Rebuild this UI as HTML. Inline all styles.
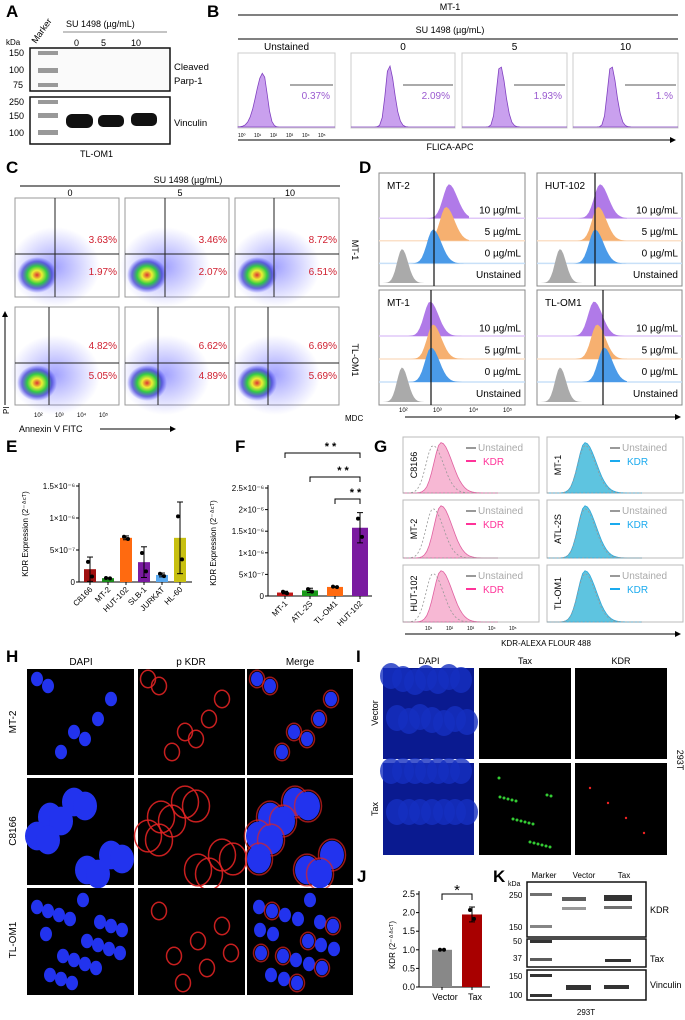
<!DOCTYPE html>
<html><head><meta charset="utf-8">
<style>
body{margin:0;background:#fff;}
svg{display:block;font-family:"Liberation Sans",Arial,sans-serif;}
</style></head>
<body>
<svg id="fig" width="685" height="1020" viewBox="0 0 685 1020" xmlns="http://www.w3.org/2000/svg">
<defs>
 <radialGradient id="dens" cx="50%" cy="50%" r="50%">
  <stop offset="0" stop-color="#d33"/><stop offset="0.25" stop-color="#ee3"/><stop offset="0.5" stop-color="#3c4"/><stop offset="0.75" stop-color="#33c" stop-opacity="0.7"/><stop offset="1" stop-color="#33f" stop-opacity="0"/>
 </radialGradient>
 <radialGradient id="dens2" cx="50%" cy="50%" r="50%">
  <stop offset="0" stop-color="#44f" stop-opacity="0.5"/><stop offset="1" stop-color="#44f" stop-opacity="0"/>
 </radialGradient>
 <marker id="arr" markerWidth="6" markerHeight="6" refX="5" refY="3" orient="auto"><path d="M0,0 L6,3 L0,6z" fill="#000"/></marker>
</defs>
<g id="panelLetters" font-weight="bold" font-size="17">
 <text x="6" y="17">A</text>
 <text x="207" y="17">B</text>
 <text x="6" y="173">C</text>
 <text x="359" y="173">D</text>
 <text x="6" y="452">E</text>
 <text x="235" y="452">F</text>
 <text x="374" y="452">G</text>
 <text x="6" y="662">H</text>
 <text x="356" y="662">I</text>
 <text x="357" y="882">J</text>
 <text x="493" y="882">K</text>
</g>

<!-- Panel A -->
<g id="panelA" font-size="9">
 <text x="6" y="45" font-size="8">kDa</text>
 <text x="36" y="44" font-size="9" transform="rotate(-55 36 44)">Marker</text>
 <text x="66" y="27">SU 1498 (µg/mL)</text>
 <line x1="63" y1="32" x2="167" y2="32" stroke="#888"/>
 <text x="74" y="46">0</text><text x="101" y="46">5</text><text x="131" y="46">10</text>
 <rect x="30" y="48" width="140" height="43" fill="#fafafa" stroke="#111" stroke-width="1.5"/>
 <rect x="30" y="97" width="140" height="47" fill="#fff" stroke="#111" stroke-width="1.5"/>
 <g fill="#999"><rect x="38" y="51" width="20" height="4"/><rect x="38" y="68" width="20" height="5"/><rect x="38" y="83" width="20" height="4"/>
 <rect x="38" y="100" width="20" height="4"/><rect x="38" y="113" width="20" height="5"/><rect x="38" y="130" width="20" height="5"/></g>
 <text x="9" y="56">150</text><text x="9" y="73">100</text><text x="13" y="88">75</text>
 <text x="9" y="105">250</text><text x="9" y="119">150</text><text x="9" y="136">100</text>
 <g fill="#111"><rect x="66" y="114" width="27" height="14" rx="6"/><rect x="98" y="115" width="26" height="12" rx="5"/><rect x="131" y="113" width="26" height="13" rx="5"/></g>
 <text x="174" y="70" font-size="9.5">Cleaved</text><text x="174" y="84" font-size="9.5">Parp-1</text>
 <text x="174" y="126" font-size="9.5">Vinculin</text>
 <text x="80" y="157">TL-OM1</text>
</g>

<!-- Panel B -->
<g id="panelB" font-size="9">
 <text x="450" y="10" text-anchor="middle">MT-1</text>
 <line x1="238" y1="15" x2="678" y2="15" stroke="#000"/>
 <text x="450" y="33" text-anchor="middle">SU 1498 (µg/mL)</text>
 <line x1="238" y1="39" x2="678" y2="39" stroke="#000"/>
 <g id="bBoxes"></g>
 <line x1="238" y1="140" x2="675" y2="140" stroke="#000" marker-end="url(#arr)"/>
 <text x="450" y="150" text-anchor="middle">FLICA-APC</text>
</g>

<!-- Panel C -->
<g id="panelC" font-size="9">
 <text x="188" y="183" text-anchor="middle">SU 1498 (µg/mL)</text>
 <line x1="20" y1="186" x2="340" y2="186" stroke="#000"/>
 <text x="70" y="196" text-anchor="middle">0</text><text x="180" y="196" text-anchor="middle">5</text><text x="290" y="196" text-anchor="middle">10</text>
 <g id="cBoxes"></g>
 <text x="352" y="250" transform="rotate(90 352 250)" text-anchor="middle">MT-1</text>
 <text x="352" y="360" transform="rotate(90 352 360)" text-anchor="middle">TL-OM1</text>
 <line x1="5" y1="405" x2="5" y2="312" stroke="#000" marker-end="url(#arr)"/>
 <text x="9" y="414" transform="rotate(-90 9 414)" font-size="8">PI</text>
 <text x="34" y="417" font-size="6">10²</text><text x="55" y="417" font-size="6">10³</text><text x="77" y="417" font-size="6">10⁴</text><text x="99" y="417" font-size="6">10⁵</text>
 <text x="19" y="432">Annexin V FITC</text>
 <line x1="100" y1="429" x2="175" y2="429" stroke="#000" marker-end="url(#arr)"/>
</g>

<!-- Panel D -->
<g id="panelD" font-size="9">
 <g id="dBoxes"></g>
 <text x="399" y="412" font-size="6">10²</text><text x="433" y="412" font-size="6">10³</text><text x="469" y="412" font-size="6">10⁴</text><text x="503" y="412" font-size="6">10⁵</text>
 <text x="345" y="421" font-size="8">MDC</text>
 <line x1="405" y1="417" x2="680" y2="417" stroke="#000" marker-end="url(#arr)"/>
</g>

<!-- Panel E -->
<g id="panelE" font-size="9"></g>
<!-- Panel F -->
<g id="panelF" font-size="9"></g>

<!-- Panel G -->
<g id="panelG" font-size="9">
 <g id="gBoxes"></g>
 <text x="425" y="630" font-size="5">10¹</text><text x="446" y="630" font-size="5">10²</text><text x="467" y="630" font-size="5">10³</text><text x="488" y="630" font-size="5">10⁴</text><text x="509" y="630" font-size="5">10⁵</text>
 <line x1="405" y1="634" x2="680" y2="634" stroke="#000" marker-end="url(#arr)"/>
 <text x="546" y="646" text-anchor="middle" font-size="8">KDR-ALEXA FLOUR 488</text>
</g>

<!-- Panel H -->
<g id="panelH" font-size="10">
 <text x="81" y="665" text-anchor="middle">DAPI</text>
 <text x="191" y="665" text-anchor="middle">p KDR</text>
 <text x="300" y="665" text-anchor="middle">Merge</text>
 <text x="16" y="722" transform="rotate(-90 16 722)" text-anchor="middle">MT-2</text>
 <text x="16" y="831" transform="rotate(-90 16 831)" text-anchor="middle">C8166</text>
 <text x="16" y="940" transform="rotate(-90 16 940)" text-anchor="middle">TL-OM1</text>
 <g id="hImgs"></g>
</g>

<!-- Panel I -->
<g id="panelI" font-size="9">
 <text x="429" y="664" text-anchor="middle">DAPI</text>
 <text x="525" y="664" text-anchor="middle">Tax</text>
 <text x="621" y="664" text-anchor="middle">KDR</text>
 <text x="378" y="713" transform="rotate(-90 378 713)" text-anchor="middle">Vector</text>
 <text x="378" y="809" transform="rotate(-90 378 809)" text-anchor="middle">Tax</text>
 <text x="677" y="760" transform="rotate(90 677 760)" text-anchor="middle">293T</text>
 <g id="iImgs"></g>
</g>

<!-- Panel J -->
<g id="panelJ" font-size="9"></g>

<!-- Panel K -->
<g id="panelK" font-size="8">
 <text x="544" y="878" text-anchor="middle">Marker</text><text x="584" y="878" text-anchor="middle">Vector</text><text x="624" y="878" text-anchor="middle">Tax</text>
 <text x="508" y="886" font-size="7">kDa</text>
 <rect x="527" y="882" width="119" height="55" fill="#fff" stroke="#111" stroke-width="1.5"/>
 <rect x="527" y="939" width="119" height="28" fill="#fff" stroke="#111" stroke-width="1.5"/>
 <rect x="527" y="970" width="119" height="30" fill="#fff" stroke="#111" stroke-width="1.5"/>
 <g fill="#333"><rect x="530" y="893" width="22" height="3" opacity="0.7"/><rect x="530" y="925" width="22" height="3" opacity="0.6"/>
 <rect x="562" y="897" width="24" height="4" opacity="0.8"/><rect x="562" y="907" width="24" height="3" opacity="0.5"/>
 <rect x="604" y="895" width="28" height="6"/><rect x="604" y="906" width="28" height="3" opacity="0.7"/>
 <rect x="530" y="940" width="22" height="3"/><rect x="530" y="958" width="22" height="3" opacity="0.8"/>
 <rect x="605" y="959" width="26" height="3"/>
 <rect x="530" y="974" width="22" height="3"/><rect x="530" y="994" width="22" height="3"/>
 <rect x="566" y="985" width="25" height="5"/><rect x="604" y="985" width="25" height="4"/></g>
 <text x="509" y="898">250</text><text x="509" y="930">150</text>
 <text x="513" y="944">50</text><text x="513" y="961">37</text>
 <text x="509" y="979">150</text><text x="509" y="998">100</text>
 <text x="650" y="913" font-size="9">KDR</text><text x="650" y="962" font-size="9">Tax</text><text x="650" y="988" font-size="9">Vinculin</text>
 <text x="586" y="1015" text-anchor="middle">293T</text>
</g>
</svg>
<script>
// ---- chart data ----
const eCategories=["C8166","MT-2","HUT-102","SLB-1","JURKAT","HL-60"];
const eValues=[2.0e-7,0.6e-7,6.9e-7,3.1e-7,1.1e-7,6.9e-7];
const eErrors=[1.9e-7,0.05e-7,0.3e-7,2.4e-7,0.3e-7,5.6e-7];
const eColors=["#a01010","#1a8a1a","#ff6a10","#7a1aa0","#5aaaf0","#c8c010"];
const eTicks=[0,5e-7,1e-6,1.5e-6];
const eTickLabels=["0","5×10⁻⁷","1×10⁻⁶","1.5×10⁻⁶"];
const fCategories=["MT-1","ATL-2S","TL-OM1","HUT-102"];
const fValues=[0.8e-7,1.3e-7,2.1e-7,1.58e-6];
const fErrors=[0.3e-7,0.5e-7,0.1e-7,0.35e-6];
const fColors=["#c01818","#1a9a1a","#ff6a10","#7a1aa0"];
const fTicks=[0,5e-7,1e-6,1.5e-6,2e-6,2.5e-6];
const fTickLabels=["0","5×10⁻⁷","1×10⁻⁶","1.5×10⁻⁶","2×10⁻⁶","2.5×10⁻⁶"];
const jCategories=["Vector","Tax"];
const jValues=[1.0,1.95];
const jErrors=[0,0.2];
const jColors=["#888","#a80000"];
const jTicks=[0,0.5,1,1.5,2,2.5];
const jTickLabels=["0.0","0.5","1.0","1.5","2.0","2.5"];

const NS="http://www.w3.org/2000/svg";
function mk(tag,attrs,parent,text){const e=document.createElementNS(NS,tag);for(const k in attrs)e.setAttribute(k,attrs[k]);if(text!==undefined)e.textContent=text;parent.appendChild(e);return e;}

function barChart(g,o){
 const y=v=>o.y0-(v/o.yMax)*(o.y0-o.yTop);
 const x=i=>o.x0+o.pad+i*o.step;
 const ax=mk('line',{x1:o.x0,y1:o.yTop-3,x2:o.x0,y2:o.y0,stroke:'#000'},g);
 
 const bx=mk('line',{x1:o.x0,y1:o.y0,x2:o.x1,y2:o.y0,stroke:'#000'},g);
 
 o.ticks.forEach((t,i)=>{
  mk('line',{x1:o.x0-3,y1:y(t),x2:o.x0,y2:y(t),stroke:'#000'},g);
  const tl=mk('text',{x:o.x0-4,y:y(t)+3,'text-anchor':'end','font-size':o.fs},g,o.tickLabels[i]);
  
 });
 o.cats.forEach((c,i)=>{
  const cx=x(i),v=o.vals[i];
  const b=mk('rect',{x:cx-o.bw/2,y:y(v),width:o.bw,height:o.y0-y(v),fill:o.colors[i]},g);
  
  const e=o.errs[i];
  if(e>0){
   mk('line',{x1:cx,y1:y(v+e),x2:cx,y2:y(Math.max(0,v-e)),stroke:'#000'},g);
   mk('line',{x1:cx-3,y1:y(v+e),x2:cx+3,y2:y(v+e),stroke:'#000'},g);
   mk('line',{x1:cx-3,y1:y(Math.max(0,v-e)),x2:cx+3,y2:y(Math.max(0,v-e)),stroke:'#000'},g);
  }
  const p1=mk('circle',{cx:cx-2,cy:y(v+e*0.6),r:2,fill:'#000'},g);
  
  const p2=mk('circle',{cx:cx+2,cy:y(Math.max(0,v-e*0.6)),r:2,fill:'#000'},g);
  
  mk('line',{x1:cx,y1:o.y0,x2:cx,y2:o.y0+3,stroke:'#000'},g);
  const lx=cx+3,ly=o.y0+(o.rot?8:13);
  const t=mk('text',{x:lx,y:ly,'text-anchor':o.rot?'end':'middle','font-size':o.lfs,transform:o.rot?`rotate(-45 ${lx} ${ly})`:''},g,c);
  
 });
 return {x,y};
}
// E
const gE=document.getElementById('panelE');
barChart(gE,{x0:79,x1:192,y0:582,yTop:486,yMax:1.5e-6,pad:11,step:18,bw:12,cats:eCategories,vals:eValues,errs:eErrors,colors:eColors,ticks:eTicks,tickLabels:eTickLabels,fs:8,lfs:8,rot:true});
mk('text',{x:28,y:534,transform:'rotate(-90 28 534)','text-anchor':'middle','font-size':8},gE,'KDR Expression (2⁻ᐞᶜᵀ)');
// F
const gF=document.getElementById('panelF');
const fAx=barChart(gF,{x0:268,x1:372,y0:596,yTop:488,yMax:2.5e-6,pad:17,step:25,bw:16,cats:fCategories,vals:fValues,errs:fErrors,colors:fColors,ticks:fTicks,tickLabels:fTickLabels,fs:8,lfs:8,rot:true});
mk('text',{x:216,y:543,transform:'rotate(-90 216 543)','text-anchor':'middle','font-size':8},gF,'KDR Expression (2⁻ᐞᶜᵀ)');
[[0,453],[1,477],[2,499]].forEach(([i,yy])=>{
 const x1=fAx.x(i),x2=fAx.x(3);
 const br=mk('path',{d:`M${x1},${yy+5}V${yy}H${x2}V${yy+5}`,fill:'none',stroke:'#000'},gF);
 
 mk('text',{x:(x1+x2)/2+8,y:yy-3,'text-anchor':'middle','font-size':11,'font-weight':'bold'},gF,'* *');
});
// J
const gJ=document.getElementById('panelJ');
const jAx=barChart(gJ,{x0:419,x1:490,y0:987,yTop:894,yMax:2.5,pad:23,step:30,bw:20,cats:jCategories,vals:jValues,errs:jErrors,colors:jColors,ticks:jTicks,tickLabels:jTickLabels,fs:9,lfs:9,rot:false});
mk('text',{x:395,y:945,transform:'rotate(-90 395 945)','text-anchor':'middle','font-size':8},gJ,'KDR (2⁻ᐞᐞᶜᵀ)');
mk('path',{d:`M${jAx.x(0)},900V894H${jAx.x(1)}V900`,fill:'none',stroke:'#000'},gJ);
mk('text',{x:(jAx.x(0)+jAx.x(1))/2,y:895,'text-anchor':'middle','font-size':15},gJ,'*');

// decorative histogram helper
function hist(g,x0,base,w,h,mu,sd,fill,stroke,dash,tail){
 let d=`M${x0},${base}`;
 for(let i=0;i<=40;i++){const xx=x0+w*i/40;const t=(xx-mu)/sd;const s=t>0?t/(tail||1):t;d+=`L${xx.toFixed(1)},${(base-h*Math.exp(-s*s/2)).toFixed(1)}`;}
 d+=`L${x0+w},${base}Z`;
 return mk('path',{d,fill,stroke:stroke||'none','stroke-dasharray':dash||'','stroke-width':0.8},g);
}
// B
const bB=document.getElementById('bBoxes');
const bHead=["Unstained","0","5","10"],bPct=["0.37%","2.09%","1.93%","1.%"];
[[238,335],[351,455],[462,567],[573,678]].forEach(([a,b],i)=>{
 mk('text',{x:(a+b)/2,y:50,'text-anchor':'middle','font-size':10},bB,bHead[i]);
 mk('rect',{x:a,y:53,width:b-a,height:75,fill:'#fff',stroke:'#ccc'},bB);
 const mu=i==0?a+25:a+38;
 hist(bB,a,127,b-a,i==0?54:62,mu,i==0?7:3.5,'#c9a0ee','#8040c0','',i==0?0.6:1.5);
 mk('line',{x1:a+52,y1:85,x2:b-2,y2:85,stroke:'#555'},bB);
 mk('text',{x:b-5,y:99,'text-anchor':'end','font-size':10,fill:'#9a5ad0'},bB,bPct[i]);
});
['10⁰','10¹','10²','10³','10⁴','10⁵'].forEach((t,i)=>mk('text',{x:238+i*16,y:137,'font-size':5},bB,t));
// C
const cB=document.getElementById('cBoxes');
const cUp=[["3.63%","3.46%","8.72%"],["4.82%","6.62%","6.69%"]],cLo=[["1.97%","2.07%","6.51%"],["5.05%","4.89%","5.69%"]];
const cCols=[[15,119],[125,229],[235,339]],cRows=[[198,297,254,243,275],[307,405,363,349,379]],cV=[[55,165,274],[49,158,268]];
cRows.forEach((r,ri)=>cCols.forEach(([a,b],ci)=>{
 mk('rect',{x:a,y:r[0],width:b-a,height:r[1]-r[0],fill:'#fff',stroke:'#999'},cB);
 mk('ellipse',{cx:a+40,cy:r[1]-30,rx:45,ry:40,fill:'url(#dens2)'},cB);
 mk('ellipse',{cx:a+22,cy:r[1]-22,rx:20,ry:18,fill:'url(#dens)'},cB);
 mk('line',{x1:a,y1:r[2],x2:b,y2:r[2],stroke:'#222'},cB);
 mk('line',{x1:cV[ri][ci],y1:r[0],x2:cV[ri][ci],y2:r[1],stroke:'#222'},cB);
 mk('text',{x:b-2,y:r[3],'text-anchor':'end','font-size':10,fill:'#d02030'},cB,cUp[ri][ci]);
 mk('text',{x:b-2,y:r[4],'text-anchor':'end','font-size':10,fill:'#d02030'},cB,cLo[ri][ci]);
}));
// D
const dB=document.getElementById('dBoxes');
const dNames=[["MT-2","HUT-102"],["MT-1","TL-OM1"]];
const dRows=[[173,286],[290,405]],dCols=[[379,525],[537,682]];
const dLine=[[434,595],[431,603]],dPeak=[[[449,446,433],[600,598,595]],[[430,433,431],[594,597,604]]];
dRows.forEach(([t,bt],ri)=>dCols.forEach(([a,b],ci)=>{
 mk('rect',{x:a,y:t,width:b-a,height:bt-t,fill:'#fff',stroke:'#888'},dB);
 const h=(bt-t);
 const bases=[t+h*0.4,t+h*0.6,t+h*0.8];
 const cols=['#b07ae8','#f6b070','#4a9ae8'];
 bases.forEach((bs,k)=>{mk('line',{x1:a,y1:bs,x2:b,y2:bs,stroke:['#e0c8f8','#fbe0c8','#c8e0f8'][k],'stroke-width':1.5},dB);hist(dB,a,bs,90,h*0.3,dPeak[ri][ci][k],6,cols[k],'none','',1.4);});
 hist(dB,a,bt-3,70,h*0.3,a+(ci==0?23:23),5,'#aaa','none','',1.2);
 mk('line',{x1:dLine[ri][ci],y1:t,x2:dLine[ri][ci],y2:bt,stroke:'#111','stroke-width':1.2},dB);
 mk('text',{x:a+8,y:t+16,'font-size':10},dB,dNames[ri][ci]);
 ['10 µg/mL','5 µg/mL','0 µg/mL','Unstained'].forEach((s,k)=>mk('text',{x:b-4,y:t+h*(0.36+k*0.19),'text-anchor':'end','font-size':10},dB,s));
}));
// G
const gB=document.getElementById('gBoxes');
const gNames=[["C8166","MT-1"],["MT-2","ATL-2S"],["HUT-102","TL-OM1"]];
const gRows=[[437,493],[500,558],[565,622]],gCols=[[403,539],[547,683]];
gRows.forEach(([t,bt],ri)=>gCols.forEach(([a,b],ci)=>{
 mk('rect',{x:a,y:t,width:b-a,height:bt-t,fill:'#fff',stroke:'#bbb'},gB);
 const c=ci==0?'#f7b8d4':'#5ec4e0',sc=ci==0?'#e060a0':'#30a8d8',lc=ci==0?'#ff3399':'#1aaaee';
 hist(gB,a,bt,95,(bt-t)*0.9,a+(ci==0?38:38),7,c,sc,'',1.6);
 hist(gB,a,bt,95,(bt-t)*0.85,a+(ci==0?30:38),7,'none','#999','2,2',1.5);
 mk('text',{x:a+14,y:(t+bt)/2,transform:`rotate(-90 ${a+14} ${(t+bt)/2})`,'text-anchor':'middle','font-size':9},gB,gNames[ri][ci]);
 mk('line',{x1:a+63,y1:t+11,x2:a+73,y2:t+11,stroke:'#999','stroke-width':2},gB);
 mk('text',{x:a+75,y:t+14,'font-size':10,fill:'#aaa'},gB,'Unstained');
 mk('line',{x1:a+63,y1:t+24,x2:a+73,y2:t+24,stroke:lc,'stroke-width':2},gB);
 mk('text',{x:a+80,y:t+28,'font-size':10,fill:lc},gB,'KDR');
}));
// H
const hI=document.getElementById('hImgs');
const hCols=[[27,134],[138,245],[247,353]],hRows=[[669,775],[778,885],[888,995]];
hRows.forEach(([t,bt],ri)=>hCols.forEach(([a,b],ci)=>{
 const r=mk('rect',{x:a,y:t,width:b-a,height:bt-t,fill:'#000'},hI);
 
 const n=ri==0?7:(ri==1?10:20),rad=ri==0?6:(ri==1?12:6);
 for(let k=0;k<n;k++){
  const px=a+10+((k*37+ri*13)%(b-a-20)),py=t+10+((k*53+ri*29)%(bt-t-20));
  if(ci!=1) mk('ellipse',{cx:px,cy:py,rx:rad,ry:rad*1.2,fill:'#2233ee'},hI);
  if(ci!=0&&(ri<2||k%3==0)) mk('ellipse',{cx:px,cy:py,rx:rad+1.5,ry:rad*1.2+1.5,fill:'none',stroke:'#d22',"stroke-width":1.5,opacity:ci==1?0.9:0.7},hI);
 }
}));
// I
const iI=document.getElementById('iImgs');
const iCols=[[383,474],[479,571],[575,667]],iRows=[[668,759],[763,855]];
iRows.forEach(([t,bt],ri)=>iCols.forEach(([a,b],ci)=>{
 const r=mk('rect',{x:a,y:t,width:b-a,height:bt-t,fill:ci==0?'#0a1a90':'#000'},iI);
 
 if(ci==0)for(let k=0;k<14;k++)mk('ellipse',{cx:a+8+((k*29)%(b-a-10)),cy:t+8+((k*41)%(bt-t-10)),rx:11,ry:13,fill:'#1530c0',opacity:0.8},iI);
 if(ri==1&&ci==1)for(let k=0;k<20;k++)mk('circle',{cx:a+20+((k*17)%55),cy:t+15+((k*23)%70),r:1.5,fill:'#3c3'},iI);
 if(ri==1&&ci==2)for(let k=0;k<4;k++)mk('circle',{cx:a+15+k*18,cy:t+25+k*15,r:1.2,fill:'#e22'},iI);
}));
</script>
</body></html>
